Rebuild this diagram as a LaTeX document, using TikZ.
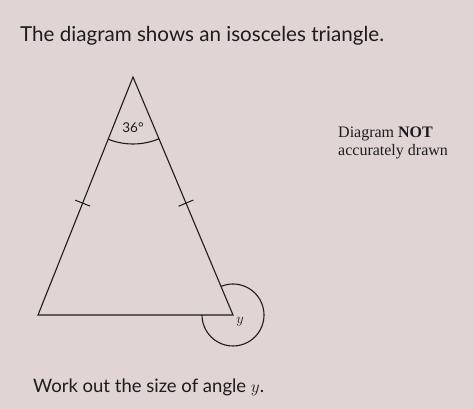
\documentclass[tikz,border=0pt]{standalone}
\usepackage{fontspec}
\setmainfont{Lato}
\newfontfamily\notefont{Liberation Serif}
\definecolor{paperpink}{RGB}{224,212,213}
\definecolor{inkgrey}{RGB}{30,28,30}
\begin{document}
\begin{tikzpicture}
[x=1pt,y=1pt,
  linedecorate/.style={draw=inkgrey,line width=1.1pt,line join=miter},%
  tickdecorate/.style={draw=inkgrey,line width=1pt,inner sep=0pt,minimum width=0pt,minimum height=16pt},%
  textdecorate/.style={text=inkgrey,inner sep=0pt}]
\fill[paperpink] (0,0) rectangle (474,409);
\useasboundingbox (0,0) rectangle (474,409);
%% vertices
\foreach \nodename/\x/\y in {apex/133/332, left/38/94, right/233/94}
{
  \coordinate (\nodename) at (\x,\y);
}
%% sides and equal-side ticks
\draw[linedecorate] (apex) -- (left) -- (right) -- cycle;
\path (apex) -- (left) node[pos=0.53,sloped,tickdecorate] {};
\path (apex) -- (right) node[pos=0.53,sloped,tickdecorate] {};
%% angles
\draw[linedecorate] ([shift={(248.2:67)}]apex) arc (248.2:292.8:67);
\draw[linedecorate] ([shift={(112.8:31)}]right) arc (112.8:-180:31);
\node[textdecorate,font=\fontsize{13.5}{15}\selectfont] (apexangle) at (133,281) {36°};
\node[textdecorate,font=\fontsize{14}{16}\selectfont] (reflexangle) at (240,87) {$y$};
%% texts
\node[textdecorate,anchor=base west,font=\fontsize{20.6}{24}\selectfont] (title) at (20,367)
  {The diagram shows an isosceles triangle.};
\node[textdecorate,anchor=north west,align=left,font=\notefont\fontsize{16}{18}\selectfont] (note) at (338,282)
  {Diagram \textbf{NOT}\\accurately drawn};
\node[textdecorate,anchor=base west,font=\fontsize{18.5}{21}\selectfont] (question) at (33,16)
  {Work out the size of angle $y$.};
\end{tikzpicture}
\end{document}
